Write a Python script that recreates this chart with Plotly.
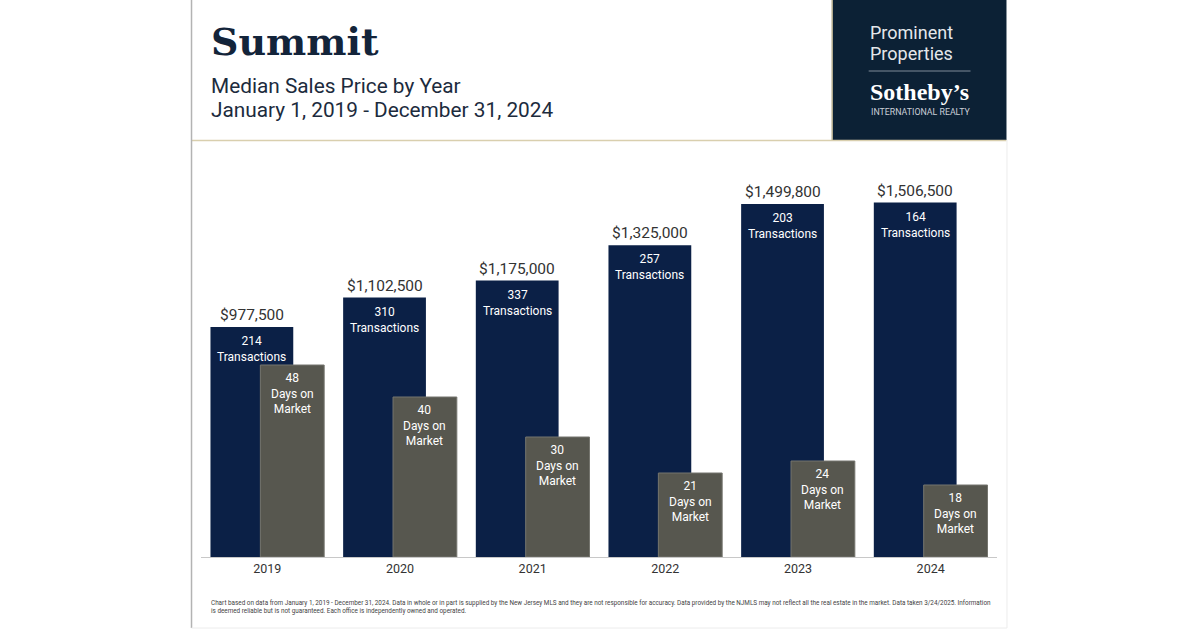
import plotly.graph_objects as go

# ---------------- data ----------------
years = ["2019", "2020", "2021", "2022", "2023", "2024"]
median_price = [977500, 1102500, 1175000, 1325000, 1499800, 1506500]
transactions = [214, 310, 337, 257, 203, 164]
days_on_market = [48, 40, 30, 21, 24, 18]

title = "Summit"
subtitle1 = "Median Sales Price by Year"
subtitle2 = "January 1, 2019 - December 31, 2024"
footer = ("Chart based on data from January 1, 2019 - December 31, 2024. Data in whole or in part is supplied by the "
          "New Jersey MLS and they are not responsible for accuracy. Data provided by the NJMLS may not reflect all the "
          "real estate in the market. Data taken 3/24/2025. Information<br>is deemed reliable but is not guaranteed. "
          "Each office is independently owned and operated.")

# ---------------- layout geometry ----------------
W, H = 1200, 630
PL, PR = 200.5, 997.5
PT, PB = 157, 557
PRICE_MAX = 1700000
DAYS_MAX = 100


def px(x):
    return (x - PL) / (PR - PL)


def py(y):
    return (PB - y) / (PB - PT)


NAVY = "#0b2046"
GREY = "#57574f"
LOGO = "#0c2135"
TAN = "#d9cfae"
TEXT = "#333333"
SANS = "Roboto"

idx = list(range(len(years)))
navy_off, navy_w = -0.4286, 0.624
grey_off, grey_w = -0.0526, 0.481
navy_c = navy_off + navy_w / 2
grey_c = grey_off + grey_w / 2

fig = go.Figure()
fig.add_bar(x=idx, y=median_price, offset=navy_off, width=navy_w,
            marker=dict(color=NAVY, line=dict(width=0)), yaxis="y",
            name="Median Sales Price", hovertemplate="%{y:$,.0f}<extra></extra>")
fig.add_bar(x=idx, y=days_on_market, offset=grey_off, width=grey_w,
            marker=dict(color=GREY, line=dict(color="#75756e", width=1)), yaxis="y2",
            name="Days on Market", hovertemplate="%{y} days<extra></extra>")

ann = []
for i, (p, t, d) in enumerate(zip(median_price, transactions, days_on_market)):
    ann.append(dict(x=i + navy_c, y=p, xref="x", yref="y", text=f"${p:,.0f}",
                    showarrow=False, yanchor="bottom", yshift=1,
                    font=dict(family=SANS, size=15.5, color=TEXT)))
    ann.append(dict(x=i + navy_c, y=p, xref="x", yref="y", text=f"{t}<br>Transactions",
                    showarrow=False, yanchor="top", yshift=-5,
                    font=dict(family=SANS, size=12, color="white")))
    ann.append(dict(x=i + grey_c, y=d, xref="x", yref="y2", text=f"{d}<br>Days on<br>Market",
                    showarrow=False, yanchor="top", yshift=-4,
                    font=dict(family=SANS, size=12, color="white")))

# header texts
ann += [
    dict(x=px(209), y=py(42), xref="paper", yref="paper", text=f"<b>{title}</b>", showarrow=False,
         xanchor="left", yanchor="middle", font=dict(family="DejaVu Serif", size=38, color="#13243a")),
    dict(x=px(209), y=py(86), xref="paper", yref="paper", text=subtitle1, showarrow=False,
         xanchor="left", yanchor="middle", font=dict(family=SANS, size=20.8, color="#1c2b3d")),
    dict(x=px(209), y=py(110), xref="paper", yref="paper", text=subtitle2, showarrow=False,
         xanchor="left", yanchor="middle", font=dict(family=SANS, size=20.8, color="#1c2b3d")),
    # logo
    dict(x=px(868), y=py(32), xref="paper", yref="paper", text="Prominent", showarrow=False,
         xanchor="left", yanchor="middle", font=dict(family=SANS, size=18, color="#e4e7eb")),
    dict(x=px(868), y=py(53), xref="paper", yref="paper", text="Properties", showarrow=False,
         xanchor="left", yanchor="middle", font=dict(family=SANS, size=18, color="#e4e7eb")),
    dict(x=px(868), y=py(92), xref="paper", yref="paper", text="<b>Sotheby\u2019s</b>", showarrow=False,
         xanchor="left", yanchor="middle", font=dict(family="Liberation Serif", size=24, color="white")),
    dict(x=px(869), y=py(112), xref="paper", yref="paper", text="INTERNATIONAL REALTY", showarrow=False,
         xanchor="left", yanchor="middle", font=dict(family=SANS, size=8.8, color="#c9ced5")),
    # footer
    dict(x=px(209), y=py(607), xref="paper", yref="paper", text=footer, showarrow=False,
         xanchor="left", yanchor="middle", align="left",
         font=dict(family=SANS, size=6.35, color="#444444")),
]

shapes = [
    dict(type="rect", xref="paper", yref="paper", x0=px(832.5), x1=px(1007), y0=py(0), y1=py(140),
         fillcolor=LOGO, line=dict(width=0), layer="below"),
    dict(type="line", xref="paper", yref="paper", x0=px(191), x1=px(1007), y0=py(140.5), y1=py(140.5),
         line=dict(color=TAN, width=1.5)),
    dict(type="line", xref="paper", yref="paper", x0=px(832.5), x1=px(832.5), y0=py(0), y1=py(140),
         line=dict(color="#b5ad8f", width=1.5)),
    dict(type="line", xref="paper", yref="paper", x0=px(869), x1=px(971), y0=py(71), y1=py(71),
         line=dict(color="#7f8b99", width=1)),
    dict(type="line", xref="paper", yref="paper", x0=px(191), x1=px(191), y0=py(0), y1=py(628),
         line=dict(color="#b3b3b3", width=1.5)),
    dict(type="line", xref="paper", yref="paper", x0=px(1007.5), x1=px(1007.5), y0=py(140), y1=py(628),
         line=dict(color="#ececec", width=1)),
    dict(type="line", xref="paper", yref="paper", x0=px(191), x1=px(1007.5), y0=py(628), y1=py(628),
         line=dict(color="#ececec", width=1)),
]

fig.update_layout(
    width=W, height=H,
    margin=dict(l=PL, r=W - PR, t=PT, b=H - PB, pad=0),
    paper_bgcolor="white", plot_bgcolor="white",
    barmode="overlay", showlegend=False,
    xaxis=dict(range=[-0.5, 5.5], tickvals=idx, ticktext=years, showgrid=False, zeroline=False,
               showline=True, linecolor="#c8c8c8", linewidth=1, ticks="",
               tickfont=dict(family=SANS, size=12.5, color=TEXT)),
    yaxis=dict(range=[0, PRICE_MAX], visible=False, showgrid=False, zeroline=False),
    yaxis2=dict(range=[0, DAYS_MAX], overlaying="y", visible=False, showgrid=False, zeroline=False),
    annotations=ann, shapes=shapes,
    font=dict(family=SANS),
)

fig.write_html("out.html", config={"displayModeBar": False},
               post_script="document.body.style.margin='0';")
